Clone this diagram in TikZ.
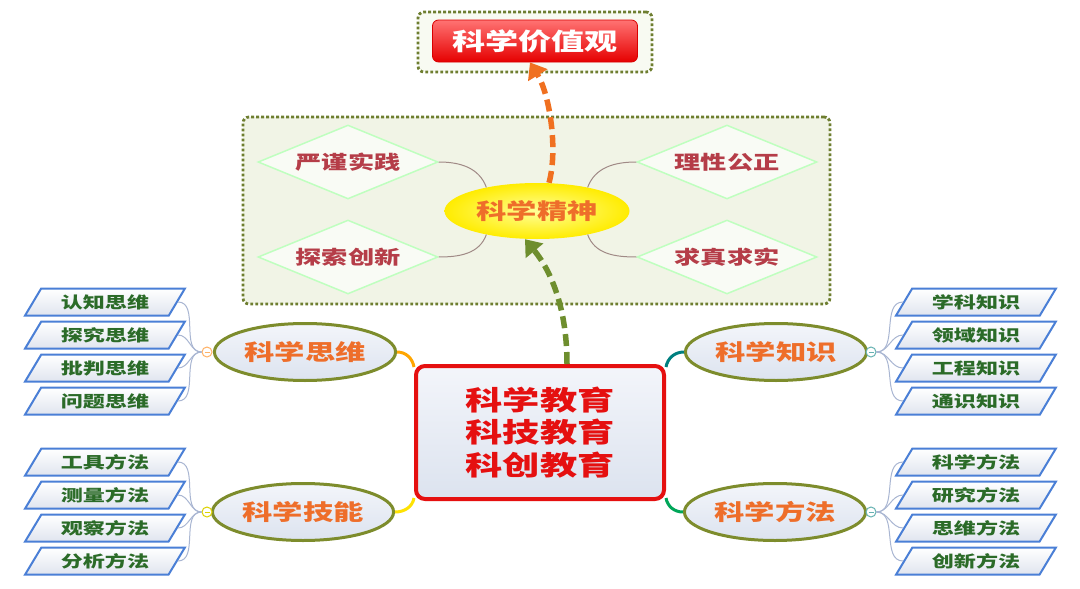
\documentclass[tikz,border=0pt]{standalone}
\usepackage{fontspec}
\newfontfamily\cjk[FakeStretch=1.38]{Noto Sans CJK SC}
\usetikzlibrary{shapes.geometric,arrows.meta}
\definecolor{frameg}{HTML}{6E7E30}
\definecolor{paleg}{HTML}{F1F4E6}
\definecolor{leafb}{HTML}{4A7FD6}
\definecolor{leafbot}{HTML}{E0E5EF}
\definecolor{leaft}{HTML}{2B6B28}
\definecolor{brb}{HTML}{7D8C2C}
\definecolor{brt}{HTML}{EE6E2A}
\definecolor{brtop}{HTML}{F3F5FA}
\definecolor{brbot}{HTML}{DCE3EF}
\definecolor{eduRed}{HTML}{E51010}
\definecolor{virt}{HTML}{B53D48}
\definecolor{arcc}{HTML}{A08A86}
\definecolor{twigc}{HTML}{A9B6D2}
\definecolor{arrowor}{HTML}{F07020}
\definecolor{arrowgr}{HTML}{6E8E2E}
\tikzset{
  frame/.style={draw=frameg, line width=2.8pt, dash pattern=on 2.8pt off 2.2pt, rounded corners=6pt},
  leaf/.style={trapezium, trapezium left angle=54, trapezium right angle=126,
    trapezium stretches=true, minimum width=160, minimum height=27, inner sep=0pt,
    draw=leafb, line width=2pt, top color=white, bottom color=leafbot,
    text=leaft, font=\cjk\bfseries\fontsize{16}{16}\selectfont},
  branch/.style={ellipse, draw=brb, line width=3pt, minimum width=176, minimum height=57,
    top color=brtop, bottom color=brbot, text=brt, font=\cjk\bfseries\fontsize{22}{22}\selectfont},
  virtue/.style={diamond, draw=green!25!white, line width=1.5pt, fill=white!60!paleg,
    minimum width=180, minimum height=74, aspect=2.4, inner sep=0pt,
    text=virt, font=\cjk\bfseries\fontsize{19}{19}\selectfont},
  toggle/.style={circle, draw=#1, fill=white, line width=1pt, minimum size=10, inner sep=0pt,
    path picture={\draw[#1] ([xshift=-2.5]path picture bounding box.center) -- ([xshift=2.5]path picture bounding box.center);}},
  twig/.style={draw=twigc, line width=1pt},
  arc/.style={draw=arcc, line width=1pt},
  link/.style={draw=#1, line width=3pt},
  bigdash/.style={line width=5.5pt, dash pattern=on 12pt off 6pt, -{Triangle[length=15,width=22]}}
}
\begin{document}
\begin{tikzpicture}[x=1pt,y=1pt]
\useasboundingbox[fill=white] (0,0) rectangle (1080,-589);

\node[frame, fill=white!50!paleg, minimum width=234, minimum height=60] (valframe) at (535,-42) {};
\node[rounded corners=6pt, draw=red!85!black, line width=0.8pt, top color=red!55!white, bottom color=red!90!black,
  minimum width=205, minimum height=42, text=white, font=\cjk\bfseries\fontsize{24}{24}\selectfont] (value) at (535,-41) {科学价值观};

\node[frame, fill=paleg, minimum width=587, minimum height=187] (spiritframe) at (536.5,-210.5) {};
\node[virtue] (d1) at (348,-162) {严谨实践};
\node[virtue] (d2) at (348,-257) {探索创新};
\node[virtue] (d3) at (727,-162) {理性公正};
\node[virtue] (d4) at (727,-257) {求真求实};
\node[ellipse, minimum width=185, minimum height=56, inner color=yellow!40!white, outer color=yellow!85!orange,
  text=brt, font=\cjk\bfseries\fontsize{22}{22}\selectfont] (spirit) at (537,-211) {科学精神};
\draw[arc] (spirit.155) to[out=110,in=0] (d1.east);
\draw[arc] (spirit.205) to[out=250,in=0] (d2.east);
\draw[arc] (spirit.25) to[out=70,in=180] (d3.west);
\draw[arc] (spirit.335) to[out=290,in=180] (d4.west);

\node[draw=eduRed, line width=4pt, rounded corners=9pt, top color=brtop, bottom color=brbot,
  minimum width=248, minimum height=133, align=center, text=eduRed,
  font=\cjk\bfseries\fontsize{27}{32.5}\selectfont] (edu) at (540,-432.5) {科学教育\\科技教育\\科创教育};

\draw[bigdash, arrowor] ([xshift=12]spirit.north) .. controls (558,-150) and (550,-95) .. ([xshift=-5]value.south);
\draw[bigdash, arrowgr] ([xshift=27]edu.north) .. controls (567,-310) and (552,-272) .. ([xshift=-12]spirit.south);

\node[branch] (think) at (305,-352) {科学思维};
\node[branch] (skill) at (303,-512) {科学技能};
\node[branch] (know) at (776,-352) {科学知识};
\node[branch] (method) at (775,-512) {科学方法};
\draw[link=orange!70!yellow] (think.east) to[out=0,in=100] ([yshift=-3]edu.north west);
\draw[link=yellow!85!orange] (skill.east) to[out=0,in=260] ([yshift=3]edu.south west);
\draw[link=teal] (know.west) to[out=180,in=80] ([yshift=-3]edu.north east);
\draw[link=teal!70!green] (method.west) to[out=180,in=280] ([yshift=3]edu.south east);

\node[toggle=orange!60!white] (tgA) at (207,-352) {};
\node[toggle=yellow!70!olive] (tgB) at (207,-512) {};
\node[toggle=teal!60!white] (tgC) at (871,-352) {};
\node[toggle=teal!60!white] (tgD) at (871,-512) {};

\foreach \t [count=\i] in {认知思维,探究思维,批判思维,问题思维}{
  \node[leaf] (ta\i) at (105,{-269-33*\i}) {\t};
  \draw[twig] (tgA.west) to[out=180,in=0] (ta\i.east);
}
\foreach \t [count=\i] in {工具方法,测量方法,观察方法,分析方法}{
  \node[leaf] (tb\i) at (105,{-429-33*\i}) {\t};
  \draw[twig] (tgB.west) to[out=180,in=0] (tb\i.east);
}
\foreach \t [count=\i] in {学科知识,领域知识,工程知识,通识知识}{
  \node[leaf] (tc\i) at (976,{-269-33*\i}) {\t};
  \draw[twig] (tgC.east) to[out=0,in=180] (tc\i.west);
}
\foreach \t [count=\i] in {科学方法,研究方法,思维方法,创新方法}{
  \node[leaf] (td\i) at (976,{-429-33*\i}) {\t};
  \draw[twig] (tgD.east) to[out=0,in=180] (td\i.west);
}
\end{tikzpicture}
\end{document}
